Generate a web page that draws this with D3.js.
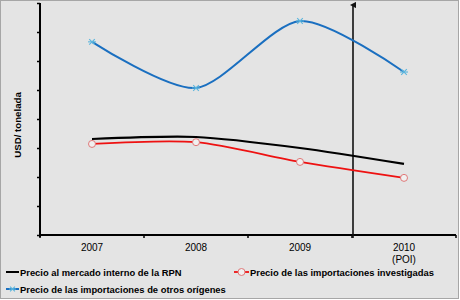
<!DOCTYPE html>
<html><head><meta charset="utf-8">
<script src="https://cdn.jsdelivr.net/npm/d3@7"></script>
<style>
html,body{margin:0;padding:0;background:#fff;}
svg{display:block;font-family:"Liberation Sans",Arial,sans-serif;}
</style></head>
<body>
<svg id="c" width="460" height="300"></svg>
<script>
const years = ["2007", "2008", "2009", "2010\n(POI)"];
const mercadoInterno = [3.31, 3.38, 3.0, 2.45];
const importInvestigadas = [3.14, 3.2, 2.52, 1.97];
const importOtros = [6.66, 5.07, 7.38, 5.62];
const yTicks = [0, 1, 2, 3, 4, 5, 6, 7, 8];
const yTitle = "USD/ tonelada";
const legendLabels = ["Precio al mercado interno de la RPN", "Precio de las importaciones investigadas", "Precio de las importaciones de otros orígenes"];

const svg = d3.select("#c");
svg.append("rect").attr("x",0.5).attr("y",0.5).attr("width",458).attr("height",298)
  .attr("fill","#e4e4e4").attr("stroke","#a6a6a6").attr("stroke-width",1);

const x = d3.scaleBand().domain(years).range([40,456]).padding(0);
const y = d3.scaleLinear().domain([0,8]).range([235,3]);
const cx = d => x(d) + x.bandwidth()/2;

// Y axis
const yAxis = d3.axisLeft(y).tickValues(yTicks).tickSize(3).tickFormat("");
const gy = svg.append("g").attr("transform","translate(40,0)").call(yAxis);
gy.select(".domain").attr("d","M0,3V237").attr("stroke","#000").attr("stroke-width",2);
gy.selectAll(".tick line").attr("stroke","#000").attr("stroke-width",1.5);

// X axis
const xAxis = d3.axisBottom(x).tickSize(0).tickFormat("");
const gx = svg.append("g").attr("transform","translate(0,235)").call(xAxis);
gx.select(".domain").attr("d","M40,0H456").attr("stroke","#000").attr("stroke-width",2);
gx.selectAll(".tick").remove();
const bounds = years.map(d => x(d)).concat([x.range()[1]]);
gx.selectAll("line.bt").data(bounds).join("line").attr("class","bt")
  .attr("x1",d=>d).attr("x2",d=>d).attr("y1",0).attr("y2",3)
  .attr("stroke","#000").attr("stroke-width",1.5);

// x labels
const xl = svg.append("g");
years.forEach(d => {
  const lines = d.split("\n");
  const t = xl.append("text").attr("x",cx(d)).attr("y",251).attr("text-anchor","middle")
    .attr("font-size","10px").attr("fill","#000");
  lines.forEach((l,i)=>t.append("tspan").attr("x",cx(d)).attr("dy", i===0?0:12).text(l));
});

// y title
svg.append("text").attr("transform","translate(21,125) rotate(-90)").attr("text-anchor","middle")
  .attr("font-size","9.7px").attr("font-weight","bold").text(yTitle);

// vertical arrow
const defs = svg.append("defs");
defs.append("marker").attr("id","arr").attr("viewBox","0 0 10 10").attr("refX",5).attr("refY",5)
  .attr("markerWidth",4).attr("markerHeight",4).attr("orient","auto")
  .append("path").attr("d","M0,10L5,0L10,10Z").attr("fill","#111");
const vx = x("2009") + x.bandwidth();
svg.append("line").attr("x1",vx+1).attr("x2",vx+1).attr("y1",238).attr("y2",5)
  .attr("stroke","#111").attr("stroke-width",1.6).attr("marker-end","url(#arr)");

const line = d3.line().x((d,i)=>cx(years[i])).y(d=>y(d)).curve(d3.curveCardinal.tension(0.2));

svg.append("path").datum(importOtros).attr("d",line).attr("fill","none").attr("stroke","#1a6fc0").attr("stroke-width",2);
svg.append("path").datum(mercadoInterno).attr("d",line).attr("fill","none").attr("stroke","#000").attr("stroke-width",2.2);
svg.append("path").datum(importInvestigadas).attr("d",line).attr("fill","none").attr("stroke","#ee1111").attr("stroke-width",1.8);

function star(g, px, py, r){
  const s = g.append("g").attr("transform",`translate(${px},${py})`).attr("stroke","#5bb5dd").attr("stroke-width",1.1);
  s.append("line").attr("x1",-r).attr("x2",r).attr("y1",0).attr("y2",0);
  s.append("line").attr("x1",-r*0.7).attr("x2",r*0.7).attr("y1",-r*0.7).attr("y2",r*0.7);
  s.append("line").attr("x1",-r*0.7).attr("x2",r*0.7).attr("y1",r*0.7).attr("y2",-r*0.7);
}
const mk = svg.append("g");
importOtros.forEach((v,i)=>star(mk, cx(years[i]), y(v), 4));
mk.selectAll("circle").data(importInvestigadas).join("circle")
  .attr("cx",(d,i)=>cx(years[i])).attr("cy",d=>y(d)).attr("r",3.5)
  .attr("fill","#f0f0f0").attr("stroke","#e07878").attr("stroke-width",1);

// legend
const lg = svg.append("g").attr("font-size","9.4px").attr("font-weight","bold");
lg.append("line").attr("x1",6).attr("x2",19).attr("y1",272).attr("y2",272).attr("stroke","#000").attr("stroke-width",2);
lg.append("text").attr("x",20).attr("y",275.5).text(legendLabels[0]);
lg.append("line").attr("x1",234).attr("x2",249).attr("y1",272).attr("y2",272).attr("stroke","#ee1111").attr("stroke-width",1.8);
lg.append("circle").attr("cx",241.5).attr("cy",272).attr("r",3.5).attr("fill","#f0f0f0").attr("stroke","#e07878");
lg.append("text").attr("x",250).attr("y",275.5).text(legendLabels[1]);
lg.append("line").attr("x1",6).attr("x2",19).attr("y1",289).attr("y2",289).attr("stroke","#1a6fc0").attr("stroke-width",2);
star(lg, 12.5, 289, 3.5);
lg.append("text").attr("x",20).attr("y",292.5).text(legendLabels[2]);
</script>
</body></html>
